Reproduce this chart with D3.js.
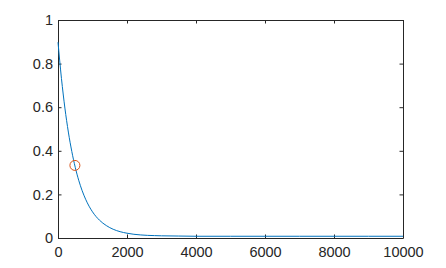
<!DOCTYPE html>
<html lang="en">
    <head>
        <meta charset="utf-8">
        <title>Decay curve</title>
        <script src="https://d3js.org/d3.v7.min.js"></script>
    </head>

    <style type="text/css">
        body {
            margin: 0;
            background: #ffffff;
        }

        .axis text {
            font-family: "Liberation Sans", Arial, sans-serif;
            font-size: 14.5px;
            fill: #262626;
        }

        .axis path, .axis line {
            stroke: #262626;
        }
    </style>

    <body>
        <div class="chart"></div>
        <script type="text/javascript">
            // values
            var curveX = [0, 100, 200, 300, 400, 500, 600, 700, 800, 900, 1000, 1200, 1400, 1600, 1800,
                          2000, 2200, 2400, 2600, 2800, 3000, 3500, 4000, 5000, 6000, 7000, 8000, 9000, 10000];
            var curveY = [0.898, 0.732, 0.596, 0.486, 0.397, 0.324, 0.265, 0.217, 0.178, 0.146, 0.120, 0.082, 0.057, 0.040, 0.029,
                          0.022, 0.017, 0.014, 0.012, 0.011, 0.010, 0.009, 0.008, 0.008, 0.008, 0.008, 0.008, 0.008, 0.008];
            var markerX = [490];
            var markerY = [0.333];
            var xTicks = [0, 2000, 4000, 6000, 8000, 10000];
            var yTicks = [0, 0.2, 0.4, 0.6, 0.8, 1];

            var width = 446, height = 268;
            var margin = {top: 20, right: 43, bottom: 30, left: 58};
            var innerW = width - margin.left - margin.right,
                innerH = height - margin.top - margin.bottom;

            var svg = d3.select(".chart")
                .append("svg")
                .attr("width", width)
                .attr("height", height);

            var g = svg.append("g")
                .attr("transform", "translate(" + margin.left + "," + margin.top + ")");

            var xScale = d3.scaleLinear().domain([0, 10000]).range([0, innerW]);
            var yScale = d3.scaleLinear().domain([0, 1]).range([innerH, 0]);

            var tick = 3.5;

            // box and ticks on all four sides
            g.append("g").attr("class", "axis")
                .attr("transform", "translate(0," + innerH + ")")
                .call(d3.axisBottom(xScale).tickValues(xTicks).tickFormat(d3.format("d"))
                    .tickSizeInner(-tick).tickSizeOuter(0).tickPadding(9));
            g.append("g").attr("class", "axis")
                .call(d3.axisTop(xScale).tickValues(xTicks).tickFormat("")
                    .tickSizeInner(-tick).tickSizeOuter(0));
            g.append("g").attr("class", "axis")
                .call(d3.axisLeft(yScale).tickValues(yTicks).tickFormat(function(d) { return d3.format("")(+d.toFixed(1)); })
                    .tickSizeInner(-tick).tickSizeOuter(0).tickPadding(5));
            g.append("g").attr("class", "axis")
                .attr("transform", "translate(" + innerW + ",0)")
                .call(d3.axisRight(yScale).tickValues(yTicks).tickFormat("")
                    .tickSizeInner(-tick).tickSizeOuter(0));

            var line = d3.line()
                .x(function(d, i) { return xScale(curveX[i]); })
                .y(function(d) { return yScale(d); })
                .curve(d3.curveMonotoneX);

            g.append("path")
                .datum(curveY)
                .attr("d", line)
                .attr("fill", "none")
                .attr("stroke", "#0072BD")
                .attr("stroke-width", 1);

            g.selectAll("circle.marker")
                .data(markerX)
                .enter()
                .append("circle")
                .attr("class", "marker")
                .attr("cx", function(d) { return xScale(d); })
                .attr("cy", function(d, i) { return yScale(markerY[i]); })
                .attr("r", 5)
                .attr("fill", "none")
                .attr("stroke", "#D95319")
                .attr("stroke-width", 1);
        </script>
    </body>
</html>
